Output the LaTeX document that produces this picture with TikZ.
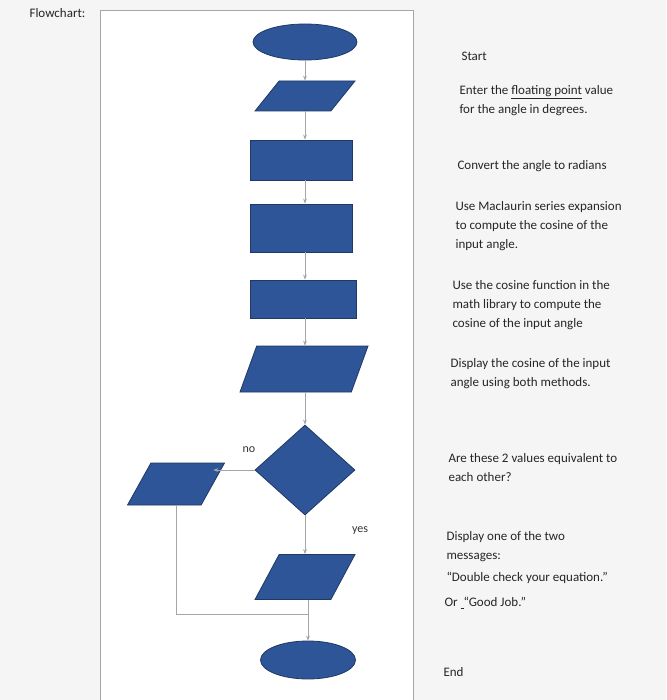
\documentclass[tikz,border=0pt]{standalone}
\usepackage{fontspec}
\setmainfont{Carlito}
\usetikzlibrary{shapes.geometric,arrows.meta}
\begin{document}
\begin{tikzpicture}[x=1pt,y=-1pt,
  blk/.style={fill=fblue, draw=dblue, line width=0.8pt},
  para/.style={blk, trapezium, trapezium left angle=65, trapezium right angle=115, minimum height=28pt, trapezium stretches=true},
  proc/.style={blk, rectangle},
  term/.style={blk, ellipse},
  dec/.style={blk, diamond, aspect=1.1},
  arr/.style={-{Stealth[length=5pt]}, draw=gray!70, line width=0.6pt},
  ln/.style={draw=gray!70, line width=0.6pt},
  lbl/.style={anchor=west, font=\fontsize{13}{19}\selectfont, align=left, text=black!85}]
\definecolor{fblue}{HTML}{2E5597}
\definecolor{dblue}{HTML}{1F3864}
\fill[gray!8] (0,0) rectangle (666,700);
\useasboundingbox (0,0) rectangle (666,700);
\draw[gray!70, line width=0.8pt, fill=white] (100,10) rectangle (413,702);
\node[lbl, anchor=west] (title) at (26,13) {Flowchart:};
\node[term, minimum width=104pt, minimum height=36pt] (start) at (305,42) {};
\node[para, minimum width=100pt, minimum height=30pt] (inp) at (305,96) {};
\node[proc, minimum width=102pt, minimum height=40pt] (conv) at (301,160) {};
\node[proc, minimum width=102pt, minimum height=48pt] (mac) at (301,228) {};
\node[proc, minimum width=106pt, minimum height=38pt] (lib) at (303,299) {};
\node[para, trapezium left angle=80, trapezium right angle=100, minimum width=128pt, minimum height=46pt] (disp) at (304,369) {};
\node[dec, minimum width=100pt, minimum height=90pt] (dec) at (305,470) {};
\node[para, minimum width=97pt, minimum height=42pt] (bad) at (176,484) {};
\node[para, minimum width=100pt, minimum height=45pt] (msg) at (305,577) {};
\node[term, minimum width=95pt, minimum height=38pt] (end) at (308,660) {};
\coordinate (j) at (308,614);
\coordinate (c) at (176,614);
\draw[arr] (start) -- (inp);
\draw[arr] (inp.south) -- (conv.north -| inp.south);
\draw[arr] (conv.south -| inp.south) -- (mac.north -| inp.south);
\draw[arr] (mac.south -| inp.south) -- (lib.north -| inp.south);
\draw[arr] (lib.south -| inp.south) -- (disp.north -| inp.south);
\draw[arr] (disp.south -| inp.south) -- (dec.north -| inp.south);
\draw[arr] (dec.south) -- (msg.north);
\draw[arr] (dec.west) -- (bad.east |- dec.west);
\draw[ln] (bad.south) -- (c) -- (j);
\draw[arr] (msg.south -| j) -- (end.north -| j);
\node[font=\fontsize{12}{14}\selectfont, text=black!80] (no) at (249,450) {no};
\node[font=\fontsize{12}{14}\selectfont, text=black!80] (yes) at (360,531) {yes};
\node[lbl] (t1) at (458,56) {Start};
\node[lbl] (t2) at (456,101) {Enter the \underline{floating point} value\\for the angle in degrees.};
\node[lbl] (t3) at (454,166) {Convert the angle to radians};
\node[lbl] (t4) at (452,226) {Use Maclaurin series expansion\\to compute the cosine of the\\input angle.};
\node[lbl] (t5) at (449,305) {Use the cosine function in the\\math library to compute the\\cosine of the input angle};
\node[lbl] (t6) at (447,374) {Display the cosine of the input\\angle using both methods.};
\node[lbl] (t7) at (445,468) {Are these 2 values equivalent to\\each other?};
\node[lbl] (t8) at (443,547) {Display one of the two\\messages:};
\node[lbl] (t9) at (443,578) {“Double check your equation.”};
\node[lbl] (t10) at (441,603) {Or \underline{\ }“Good Job.”};
\node[lbl] (t11) at (440,672) {End};
\end{tikzpicture}
\end{document}
